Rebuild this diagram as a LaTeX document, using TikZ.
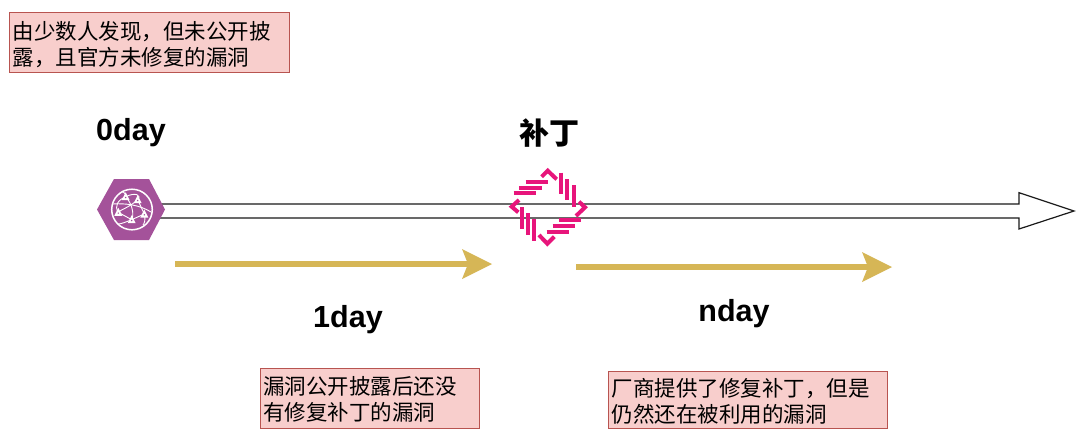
\documentclass[tikz,border=0pt]{standalone}
\usepackage{fontspec}
\setmainfont{Liberation Sans}
\newfontfamily\cjk{Noto Sans CJK SC}
\usetikzlibrary{arrows.meta}
\definecolor{notefill}{HTML}{F8CECC}
\definecolor{noteline}{HTML}{B85450}
\definecolor{gold}{HTML}{D6B656}
\definecolor{hexpurple}{HTML}{A4529A}
\definecolor{patchpink}{HTML}{E7157B}
\AtBeginDocument{\lineskiplimit=-20pt}
\tikzset{
  notebox/.style={draw=noteline,fill=notefill,line width=1.2pt,rectangle,inner sep=0pt,anchor=north west,
    text=black,align=left,font=\cjk\fontsize{21.5}{25.5}\selectfont},
  daylabel/.style={font=\bfseries\fontsize{30.5}{34}\selectfont,text=black,inner sep=0pt},
  goldarrow/.style={draw=gold,line width=6pt,-{Stealth[length=30pt,width=30pt,inset=6pt,line width=0pt]}},
  patchbar/.style={draw=patchpink,line width=4pt},
  globeline/.style={draw=white,line width=0.9pt},
}
\newcommand{\gtri}[2]{\fill[white] (#1-4,#2+3.5) -- (#1,#2-4.5) -- (#1+4,#2+3.5) -- cycle;
  \fill[hexpurple] (#1,#2+0.8) circle (0.8);}
\newcommand{\tail}{\rule[-3pt]{0pt}{3pt}}
\begin{document}
\begin{tikzpicture}[x=1pt,y=-1pt]
\useasboundingbox[fill=white] (0,0) rectangle (1080,440);
% main arrow
\draw[line width=1.2pt,fill=white,draw=black!90,line join=miter]
  (150,204) -- (1019,204) -- (1019,192.7) -- (1074,211) -- (1019,229) -- (1019,218) -- (150,218);
% hexagon
\fill[hexpurple] (97,209.5) -- (114,179) -- (149,179) -- (165,209.5) -- (149,240) -- (114,240) -- cycle;
\draw[white,line width=1.5pt] (132,209.5) circle (20.3);
\begin{scope}[globeline]
  \draw (125.7,196.7) .. controls (133,205) and (134,215) .. (131.7,219.7);
  \draw (137.7,199.7) .. controls (130,207) and (120,210) .. (118.3,212.3);
  \draw (125.7,196.7) .. controls (135,192) and (142,195) .. (137.7,199.7);
  \draw (118.3,212.3) -- (131.7,219.7) -- (144.3,214);
  \draw (137.7,199.7) -- (144.3,214);
  \draw (125.7,196.7) .. controls (118,200) and (114,206) .. (118.3,212.3);
  \draw (113,204) .. controls (125,203) and (140,205) .. (151,212);
  \draw (131.7,219.7) .. controls (126,222) and (121,224) .. (118,224);
  \draw (144.3,214) .. controls (146,220) and (144,224) .. (143,225);
  \draw (122,191) .. controls (126,194) and (126,195) .. (125.7,196.7);
\end{scope}
\gtri{125.7}{196.7}
\gtri{137.7}{199.7}
\gtri{118.3}{212.3}
\gtri{131.7}{219.7}
\gtri{144.3}{214}
% patch icon
\begin{scope}[patchbar,xshift=495pt,yshift=-155pt]
  \draw (46.7,21.7) -- (52.7,15.7) -- (61.7,24.3);
  \draw (84,46.7) -- (90,52.3) -- (81,61);
  \draw (44,80) -- (52.3,88.7) -- (59.3,81.7);
  \draw (23.3,57.3) -- (16.7,51.7) -- (24,45);
  \draw (30.7,26.7) -- (52.7,26.7);
  \draw (24.3,32.7) -- (46.7,32.7);
  \draw (18.7,38.3) -- (40.7,38.3);
  \draw (66,17.7) -- (66,39.3);
  \draw (72.3,24) -- (72.3,45.3);
  \draw (78.7,30) -- (78.7,51.7);
  \draw (27.3,52.3) -- (27.3,74);
  \draw (33.3,58.3) -- (33.3,80);
  \draw (39.3,64) -- (39.3,86);
  \draw (64,65.3) -- (86,65.3);
  \draw (57.7,71.3) -- (80,71.3);
  \draw (51.7,77.3) -- (74,77.3);
\end{scope}
% gold arrows
\coordinate (a1s) at (175,264);
\coordinate (a1e) at (492,264);
\coordinate (a2s) at (576,267);
\coordinate (a2e) at (892,267);
\draw[goldarrow] (a1s) -- (a1e);
\draw[goldarrow] (a2s) -- (a2e);
% labels
\node[daylabel] (zero) at (131,133) {0day};
\node[daylabel,font=\cjk\bfseries\fontsize{30}{34}\selectfont] (patch) at (549.5,133) {补丁};
\node[daylabel] (one) at (348,320) {1day};
\node[daylabel] (n) at (734,314) {nday};
% notes
\node[notebox,minimum width=280pt,minimum height=60pt,text width=274pt] at (9,12) (note0)
  {\rule{0pt}{22.5pt}由少数人发现，但未公开披\\露，且官方未修复的漏洞\tail};
\node[notebox,minimum width=219pt,minimum height=60pt,text width=215pt] at (260,368) (note1)
  {\rule{0pt}{20.5pt}\hspace*{0.5pt}漏洞公开披露后还没\\\hspace*{0.5pt}有修复补丁的漏洞\tail};
\node[notebox,minimum width=279pt,minimum height=57pt,text width=275pt] at (608,371) (note2)
  {\rule{0pt}{21.5pt}\hspace*{1pt}厂商提供了修复补丁，但是\\\hspace*{1pt}仍然还在被利用的漏洞\tail};
\end{tikzpicture}
\end{document}
